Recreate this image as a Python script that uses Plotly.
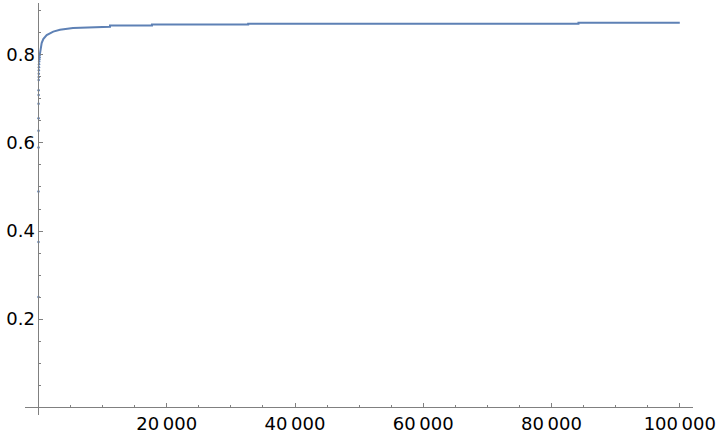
import plotly.graph_objects as go

# early sparse points of the running estimate (n small)
early_x = [1, 2, 3, 5, 8, 12, 16, 20, 25, 30, 40, 50, 60, 75, 90, 110, 130, 160, 200]
early_y = [0.25, 0.375, 0.49, 0.59, 0.628, 0.656, 0.689, 0.709, 0.72, 0.743, 0.75,
           0.757, 0.765, 0.772, 0.779, 0.785, 0.79, 0.795, 0.80]

# main curve (steps at the right)
curve_x = [200, 234, 500, 750, 1280, 2310, 3350, 5380, 8030, 11150, 11150,
           17700, 17700, 32700, 32700, 84200, 84200, 100000]
curve_y = [0.80, 0.805, 0.827, 0.836, 0.845, 0.853, 0.857, 0.861, 0.863, 0.864, 0.8666,
           0.8666, 0.869, 0.869, 0.871, 0.871, 0.873, 0.873]

x_ticks = [20000, 40000, 60000, 80000, 100000]
x_ticktext = ["20\u2009000", "40\u2009000", "60\u2009000", "80\u2009000", "100\u2009000"]
y_ticks = [0.2, 0.4, 0.6, 0.8]
y_ticktext = ["0.2", "0.4", "0.6", "0.8"]

line_col = "rgb(94,129,181)"
axis_col = "#808080"

x_range = [-2100, 102060]
y_range = [-0.018, 0.918]

fig = go.Figure()
fig.add_trace(go.Scatter(x=early_x, y=early_y, mode="markers",
                         marker=dict(color=line_col, size=2.5),
                         showlegend=False))
fig.add_trace(go.Scatter(x=curve_x, y=curve_y, mode="lines",
                         line=dict(color=line_col, width=2),
                         showlegend=False))

font = dict(family="DejaVu Sans", size=18, color="black")

fig.update_layout(
    width=720, height=438,
    margin=dict(l=25, r=27, t=3, b=23),
    paper_bgcolor="white", plot_bgcolor="white",
    xaxis=dict(range=x_range, showgrid=False, zeroline=False, automargin=False,
               showline=True, linecolor=axis_col, linewidth=1,
               anchor="free",
               position=(0 - y_range[0]) / (y_range[1] - y_range[0]),
               tickvals=x_ticks, ticktext=x_ticktext,
               ticks="inside", ticklen=4, tickcolor=axis_col,
               tickfont=font,
               minor=dict(dtick=5000, tick0=0, ticks="inside", ticklen=2,
                          tickcolor=axis_col, showgrid=False)),
    yaxis=dict(range=y_range, showgrid=False, zeroline=False, automargin=False,
               showline=True, linecolor=axis_col, linewidth=1,
               anchor="free",
               position=(0 - x_range[0]) / (x_range[1] - x_range[0]),
               tickvals=y_ticks, ticktext=y_ticktext,
               ticks="inside", ticklen=4, tickcolor=axis_col,
               tickfont=font,
               minor=dict(dtick=0.05, tick0=0, ticks="inside", ticklen=2,
                          tickcolor=axis_col, showgrid=False)),
)

# the page body has a default 8px margin; drop it so the figure sits at 0,0
fig.write_html("out.html", config={"displayModeBar": False},
               post_script="document.body.style.margin='0';")
